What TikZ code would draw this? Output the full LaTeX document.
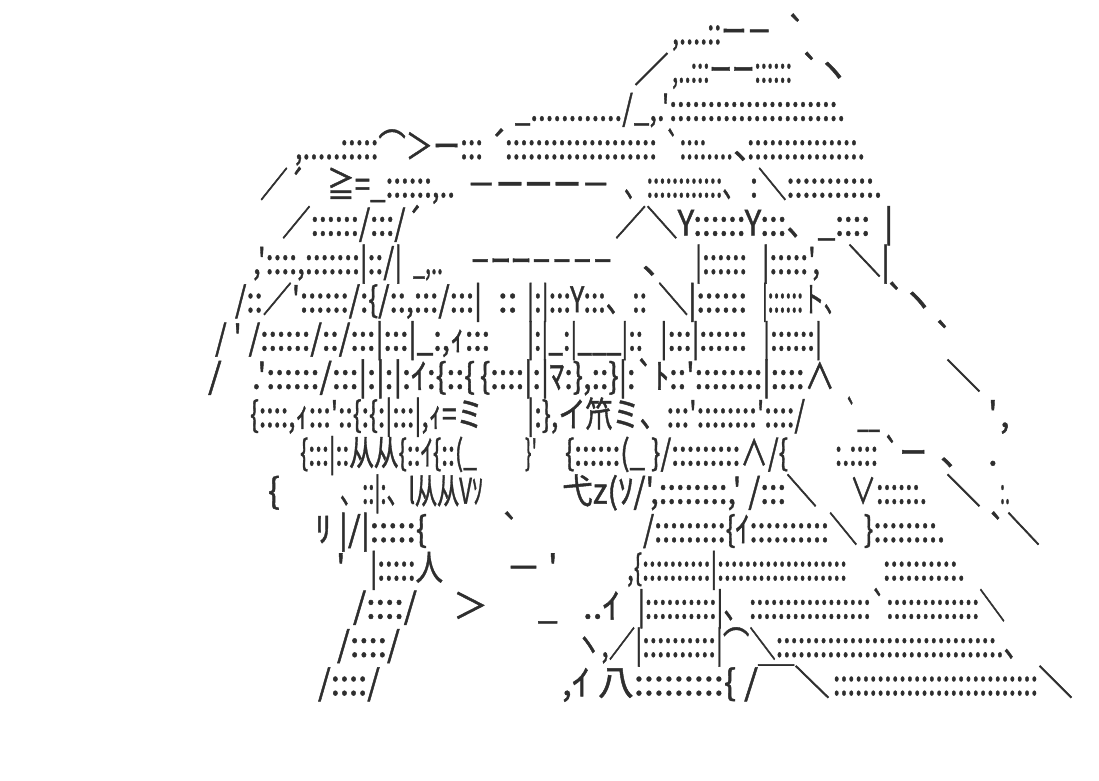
\documentclass[tikz,border=0pt]{standalone}
\usepackage{fontspec}
\usepackage{graphicx}
\setmainfont{Noto Sans CJK JP}[Ligatures=TeXOff,FakeBold=1.3]
\ExplSyntaxOn
\cs_new:Npn \cln #1 {\prg_replicate:nn{#1}{:}}
\ExplSyntaxOff
\newcounter{nn}
\tikzset{t/.style={anchor=base west,inner sep=0pt,outer sep=0pt,text=black!82,font=\fontsize{35}{40}\selectfont}}
\newcommand\segf[4]{\stepcounter{nn}\node[t] (n\thenn) at (#1,{44+38.3*(#3-1)}) {\resizebox{\dimexpr#2pt-#1pt\relax}{\height}{#4}};}
\newcommand\segp[3]{\stepcounter{nn}\node[t] (n\thenn) at (#1,{44+38.3*(#2-1)}) {#3};}
\begin{document}
\begin{tikzpicture}[x=1pt,y=-1pt]
\fill[white] (0,0) rectangle (1099,780);
\useasboundingbox (0,0) rectangle (1099,780);
% 1
\segf{672}{772}{1}{,....::ー－}\segp{786}{1}{`}
% 2
\segp{634}{2}{／}\segf{672}{792}{2}{,..:::ーー::::::}\segp{800}{2}{`}\segp{815}{2}{ヽ}
% 3
\segf{515}{633}{3}{\_............/}\segf{634}{845}{3}{\_,.'\cln{22}.}
% 4
\segf{295}{483}{4}{,.....:::::⌒＞ー:::}\segp{487}{4}{´}\segf{505}{657}{4}{\cln{20}}\segf{665}{733}{4}{`::::....}\segp{733}{4}{、}\segf{747}{865}{4}{\cln{15}.}
% 5
\segf{260}{305}{5}{／´}\segf{327}{455}{5}{≧=\_::::::,..}\segf{467}{610}{5}{－ーーー－}\segf{624}{745}{5}{、\cln{12}、}\segf{750}{882}{5}{:＼\cln{11}.}
% 6
\segf{282}{423}{6}{／::::::/:::/´}\segf{615}{870}{6}{／＼Y::::::Y:::、\_::::}\segp{884}{6}{|}
% 7
\segf{253}{402}{7}{,'::::,:::::::|::/|}\segf{413}{443}{7}{\_,..}\segf{470}{613}{7}{－ーー－－－－}\segp{642}{7}{、}\segf{695}{747}{7}{|::::::}\segf{762}{820}{7}{|:::::',}\segf{848}{890}{7}{＼|}
% 8
\segf{235}{482}{8}{/::／'::::::/:\{/::,:::/:::|}\segp{498}{8}{::}\segf{527}{647}{8}{|:|:::Y:::、::}\segf{658}{747}{8}{＼|::::::}\segf{762}{845}{8}{|::::::ト、}\segp{885}{8}{`}\segp{900}{8}{ヽ}
% 9
\segf{215}{490}{9}{/ ' /::::::/::/:::|:::|\_:,ｨ:::}\segf{527}{643}{9}{|:|\_:|\_\_\_|::}\segf{660}{747}{9}{|:::|::::::}\segf{763}{822}{9}{|::::::|}\segp{933}{9}{`}
% 10
\segp{208}{10}{/}\segf{252}{475}{10}{.'::::::/:::|:|:|:ｲ:\{::\{}\segf{480}{835}{10}{\{::::|:|ﾏ:\},::\}|:`ﾄ::'::::::::|::::∧}\segp{946}{10}{＼}
% 11
\segf{250}{483}{11}{\{::::,ｨ:::'::\{:\{:|:::|,ｨ=ミ}\segf{527}{805}{11}{|:\},イ笊ミ、:::'::::::::'::::/}\segf{845}{880}{11}{`\_\_}\segp{988}{11}{'}\segp{1000}{11}{,}
% 12
\segf{300}{477}{12}{\{:::|::从从\{::ｲ\{::(\_}\segf{525}{537}{12}{\}'}\segf{565}{788}{12}{\{::::::(\_ \}/:::::::::∧/\{}\segf{835}{878}{12}{:.::::}\segf{883}{927}{12}{`ー}\segp{940}{12}{、}\segp{988}{12}{.}
% 13
\segp{268}{13}{\{}\segf{340}{483}{13}{、::|:、l从从Vｿ}\segf{562}{817}{13}{弋z(ｿ/',::::::::,' /:::＼}\segf{850}{927}{13}{∨::::::.}\segp{946}{13}{＼}\segf{1000}{1010}{13}{:.}
% 14
\segf{315}{427}{14}{ﾘ |/|:::::\{}\segp{500}{14}{`}\segf{643}{945}{14}{/:::::::::\{ｲ::::::::::＼ \}::::::::.}\segf{987}{1040}{14}{`＼}
% 15
\segp{336}{15}{'}\segf{370}{443}{15}{|:::::人}\segp{506}{15}{－}\segp{548}{15}{'}\segf{627}{847}{15}{,\{\cln{10}|\cln{19}}\segf{883}{965}{15}{\cln{10}.}
% 16
\segf{353}{417}{16}{/::::/}\segp{453}{16}{＞}\segp{538}{16}{\_}\segf{583}{620}{16}{..ｲ}\segf{638}{1005}{16}{|\cln{10}|、\cln{17}`\cln{13}＼}
% 17
\segf{337}{400}{17}{/::::/}\segf{575}{1030}{17}{ヽ,／|\cln{10}|⌒＼\cln{30}.、}
% 18
\segf{318}{380}{18}{/::::/}\segf{562}{830}{18}{,ｲ 八:::::::::\{ /￣＼}\segf{833}{1038}{18}{\cln{28}}\segp{1038}{18}{＼}
\end{tikzpicture}
\end{document}
